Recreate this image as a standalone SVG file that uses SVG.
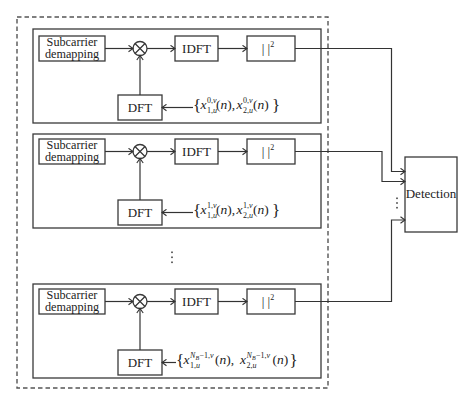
<svg xmlns="http://www.w3.org/2000/svg" width="474" height="405" viewBox="0 0 474 405">
<defs>
<marker id="arr" markerUnits="userSpaceOnUse" markerWidth="8" markerHeight="8" viewBox="-6 -4 7 8" refX="0" refY="0" orient="auto">
<path d="M-4.5,-3.2 L0,0 L-4.5,3.2" fill="none" stroke="#333" stroke-width="1.1"/>
</marker>
</defs>
<style>
.nbox{fill:#fff;stroke:#3a3a3a;stroke-width:1.3}
.npanel{fill:none;stroke:#3a3a3a;stroke-width:1.3}
.ndash{fill:none;stroke:#555;stroke-width:1.4;stroke-dasharray:4.5,3}
.txtc{font-family:"Liberation Serif","Times New Roman",serif;font-size:13px;fill:#222;text-anchor:middle}
.txts{font-family:"Liberation Serif","Times New Roman",serif;font-size:12.2px;fill:#222;text-anchor:middle}
.txtm{font-family:"Liberation Serif","Times New Roman",serif;font-size:13.5px;fill:#222}
.ital{font-style:italic}
.scr{font-size:8px;fill:#222}
.sscr{font-size:6px;fill:#222}
.brace{font-size:17px}
.wire{fill:none;stroke:#333;stroke-width:1.2}
.ndot{fill:#444}
</style>
<rect class="ndash" x="17" y="17" width="311" height="371"/>

<g id="panel1">
<rect class="npanel" x="33" y="29" width="288" height="94"/>
<g id="sub1"><rect class="nbox" x="39" y="36" width="66" height="25"/><text class="txts" x="72" y="45.5">Subcarrier</text><text class="txts" x="72" y="58">demapping</text></g>
<g id="mul1"><circle class="nbox" cx="140" cy="48.5" r="7"/><path class="wire" d="M135,43.5 L145,53.5 M145,43.5 L135,53.5"/></g>
<g id="idft1"><rect class="nbox" x="175" y="36" width="43" height="25"/><text class="txtc" x="196.5" y="53">IDFT</text></g>
<g id="abs1"><rect class="nbox" x="247" y="36" width="48" height="25"/><text class="txtc" x="268" y="53">| |<tspan class="scr" dy="-6">2</tspan></text></g>
<g id="dft1"><rect class="nbox" x="118" y="95" width="44" height="25"/><text class="txtc" x="140" y="112">DFT</text></g>
<g id="lab1"><text class="txtm"><tspan class="brace" x="193" y="111">{</tspan><tspan class="ital" x="200.5" y="108.5">x</tspan><tspan class="scr" x="207" y="102.5">0,<tspan class="ital">v</tspan></tspan><tspan class="scr" x="207" y="112.5">1,<tspan class="ital">u</tspan></tspan><tspan x="216" y="108.5">(<tspan class="ital">n</tspan>),</tspan><tspan class="ital" x="236.5" y="108.5">x</tspan><tspan class="scr" x="243" y="102.5">0,<tspan class="ital">v</tspan></tspan><tspan class="scr" x="243" y="112.5">2,<tspan class="ital">u</tspan></tspan><tspan x="253" y="108.5">(<tspan class="ital">n</tspan>)</tspan><tspan class="brace" x="272" y="111">}</tspan></text></g>
</g>

<g id="panel2">
<rect class="npanel" x="33" y="134" width="288" height="94"/>
<g id="sub2"><rect class="nbox" x="39" y="139" width="66" height="25"/><text class="txts" x="72" y="148.5">Subcarrier</text><text class="txts" x="72" y="161">demapping</text></g>
<g id="mul2"><circle class="nbox" cx="140" cy="151.5" r="7"/><path class="wire" d="M135,146.5 L145,156.5 M145,146.5 L135,156.5"/></g>
<g id="idft2"><rect class="nbox" x="175" y="139" width="43" height="25"/><text class="txtc" x="196.5" y="156">IDFT</text></g>
<g id="abs2"><rect class="nbox" x="247" y="139" width="48" height="25"/><text class="txtc" x="268" y="156">| |<tspan class="scr" dy="-6">2</tspan></text></g>
<g id="dft2"><rect class="nbox" x="118" y="200" width="44" height="25"/><text class="txtc" x="140" y="217">DFT</text></g>
<g id="lab2"><text class="txtm"><tspan class="brace" x="193" y="216">{</tspan><tspan class="ital" x="200.5" y="213.5">x</tspan><tspan class="scr" x="207" y="207.5">1,<tspan class="ital">v</tspan></tspan><tspan class="scr" x="207" y="217.5">1,<tspan class="ital">u</tspan></tspan><tspan x="216" y="213.5">(<tspan class="ital">n</tspan>),</tspan><tspan class="ital" x="236.5" y="213.5">x</tspan><tspan class="scr" x="243" y="207.5">1,<tspan class="ital">v</tspan></tspan><tspan class="scr" x="243" y="217.5">2,<tspan class="ital">u</tspan></tspan><tspan x="253" y="213.5">(<tspan class="ital">n</tspan>)</tspan><tspan class="brace" x="272" y="216">}</tspan></text></g>
</g>

<g id="panel3">
<rect class="npanel" x="33" y="284" width="288" height="94"/>
<g id="sub3"><rect class="nbox" x="39" y="289" width="66" height="25"/><text class="txts" x="72" y="298.5">Subcarrier</text><text class="txts" x="72" y="311">demapping</text></g>
<g id="mul3"><circle class="nbox" cx="140" cy="301.5" r="7"/><path class="wire" d="M135,296.5 L145,306.5 M145,296.5 L135,306.5"/></g>
<g id="idft3"><rect class="nbox" x="175" y="289" width="43" height="25"/><text class="txtc" x="196.5" y="306">IDFT</text></g>
<g id="abs3"><rect class="nbox" x="247" y="289" width="48" height="25"/><text class="txtc" x="268" y="306">| |<tspan class="scr" dy="-6">2</tspan></text></g>
<g id="dft3"><rect class="nbox" x="118" y="350" width="44" height="25"/><text class="txtc" x="140" y="367">DFT</text></g>
<g id="lab3"><text class="txtm"><tspan class="brace" x="176" y="366">{</tspan><tspan class="ital" x="183.5" y="363.5">x</tspan><tspan class="scr ital" x="190" y="357.5">N</tspan><tspan class="sscr ital" x="195.5" y="359.5">B</tspan><tspan class="scr" x="199.5" y="357.5">−1,<tspan class="ital">v</tspan></tspan><tspan class="scr" x="190" y="367.5">1,<tspan class="ital">u</tspan></tspan><tspan x="215" y="363.5">(<tspan class="ital">n</tspan>),</tspan><tspan class="ital" x="240" y="363.5">x</tspan><tspan class="scr ital" x="246.5" y="357.5">N</tspan><tspan class="sscr ital" x="252" y="359.5">B</tspan><tspan class="scr" x="256" y="357.5">−1,<tspan class="ital">v</tspan></tspan><tspan class="scr" x="246.5" y="367.5">2,<tspan class="ital">u</tspan></tspan><tspan x="272.5" y="363.5">(<tspan class="ital">n</tspan>)</tspan><tspan class="brace" x="289.5" y="366">}</tspan></text></g>
</g>

<g id="detection"><rect class="nbox" x="405" y="157" width="52" height="75"/><text class="txtc" x="431" y="198">Detection</text></g>

<g id="connectors" class="wire" marker-end="url(#arr)">
<path d="M105,48.5 H133"/><path d="M147,48.5 H175"/><path d="M218,48.5 H247"/><path d="M140,95 V55.5"/><path d="M193,107.5 H162"/>
<path d="M105,151.5 H133"/><path d="M147,151.5 H175"/><path d="M218,151.5 H247"/><path d="M140,200 V158.5"/><path d="M193,212.5 H162"/>
<path d="M105,301.5 H133"/><path d="M147,301.5 H175"/><path d="M218,301.5 H247"/><path d="M140,350 V308.5"/><path d="M176,362.5 H162"/>
<path d="M295,48.5 H391.5 V171.5 H405"/>
<path d="M295,151.5 H382 V181.5 H405"/>
<path d="M295,301.5 H391.5 V220 H405"/>
</g>

<g id="dots">
<rect class="ndot" x="396.2" y="197.5" width="1.6" height="1.6"/><rect class="ndot" x="396.2" y="202.2" width="1.6" height="1.6"/><rect class="ndot" x="396.2" y="206.9" width="1.6" height="1.6"/>
<rect class="ndot" x="171.2" y="251.5" width="1.6" height="1.6"/><rect class="ndot" x="171.2" y="256.5" width="1.6" height="1.6"/><rect class="ndot" x="171.2" y="261.5" width="1.6" height="1.6"/>
</g>
</svg>
